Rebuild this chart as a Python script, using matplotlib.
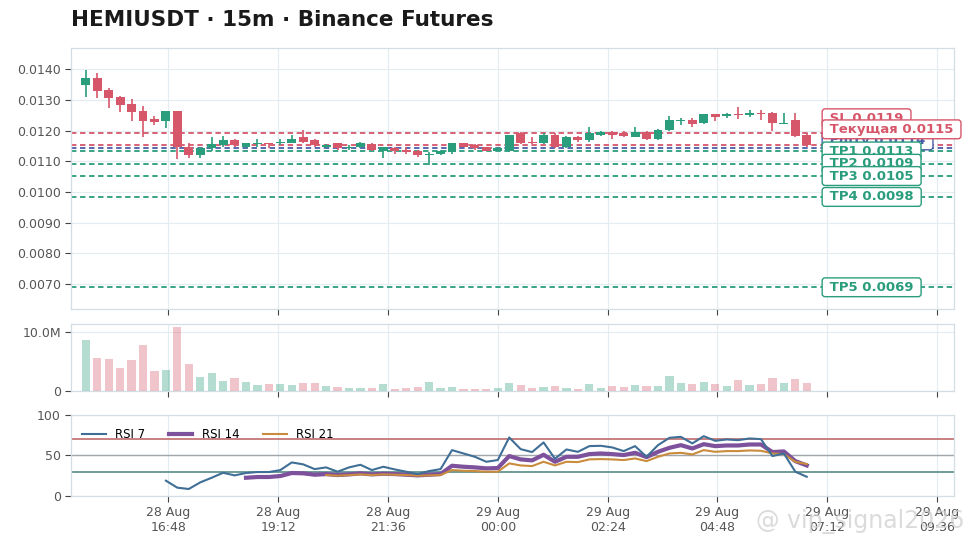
import numpy as np
import pandas as pd
import matplotlib
matplotlib.use('Agg')
import matplotlib.pyplot as plt
import matplotlib.dates as mdates
from matplotlib.ticker import MultipleLocator, FixedLocator, FuncFormatter

# свечи 15m, HEMIUSDT
times = pd.date_range('2025-08-28 15:00', periods=64, freq='15min')
opens = [0.01348, 0.01371, 0.01331, 0.01308, 0.01286, 0.01263, 0.01236, 0.01230, 0.01263, 0.01148,
         0.01119, 0.01142, 0.01152, 0.01168, 0.01148, 0.01155, 0.01161, 0.01158, 0.01161, 0.01178,
         0.01168, 0.01148, 0.01158, 0.01142, 0.01145, 0.01155, 0.01135, 0.01142, 0.01138, 0.01132,
         0.01122, 0.01125, 0.01129, 0.01158, 0.01152, 0.01145, 0.01135, 0.01135, 0.01191, 0.01164,
         0.01158, 0.01187, 0.01145, 0.01178, 0.01168, 0.01184, 0.01194, 0.01191, 0.01178, 0.01194,
         0.01171, 0.01201, 0.01230, 0.01233, 0.01223, 0.01253, 0.01246, 0.01253, 0.01250, 0.01256,
         0.01256, 0.01220, 0.01233, 0.01184]
highs = [0.01397, 0.01387, 0.01338, 0.01312, 0.01302, 0.01279, 0.01246, 0.01263, 0.01263, 0.01158,
         0.01148, 0.01178, 0.01181, 0.01174, 0.01161, 0.01174, 0.01161, 0.01171, 0.01184, 0.01201,
         0.01171, 0.01155, 0.01161, 0.01152, 0.01164, 0.01158, 0.01148, 0.01145, 0.01145, 0.01138,
         0.01129, 0.01138, 0.01158, 0.01161, 0.01155, 0.01148, 0.01145, 0.01187, 0.01194, 0.01178,
         0.01191, 0.01191, 0.01181, 0.01181, 0.01210, 0.01197, 0.01197, 0.01197, 0.01210, 0.01197,
         0.01204, 0.01246, 0.01240, 0.01240, 0.01253, 0.01253, 0.01256, 0.01276, 0.01266, 0.01266,
         0.01259, 0.01256, 0.01256, 0.01191]
lows = [0.01308, 0.01305, 0.01272, 0.01259, 0.01230, 0.01178, 0.01217, 0.01207, 0.01106, 0.01112,
        0.01112, 0.01135, 0.01148, 0.01145, 0.01142, 0.01148, 0.01142, 0.01152, 0.01158, 0.01161,
        0.01148, 0.01142, 0.01138, 0.01138, 0.01142, 0.01135, 0.01112, 0.01125, 0.01125, 0.01115,
        0.01089, 0.01122, 0.01125, 0.01145, 0.01138, 0.01132, 0.01132, 0.01129, 0.01155, 0.01155,
        0.01155, 0.01142, 0.01142, 0.01164, 0.01164, 0.01181, 0.01174, 0.01178, 0.01178, 0.01168,
        0.01168, 0.01197, 0.01217, 0.01210, 0.01220, 0.01230, 0.01240, 0.01236, 0.01243, 0.01233,
        0.01197, 0.01220, 0.01178, 0.01145]
closes = [0.01371, 0.01328, 0.01305, 0.01282, 0.01259, 0.01230, 0.01227, 0.01263, 0.01148, 0.01119,
          0.01142, 0.01155, 0.01168, 0.01152, 0.01158, 0.01161, 0.01155, 0.01164, 0.01174, 0.01164,
          0.01152, 0.01152, 0.01142, 0.01148, 0.01158, 0.01138, 0.01145, 0.01132, 0.01129, 0.01122,
          0.01125, 0.01132, 0.01158, 0.01148, 0.01142, 0.01135, 0.01142, 0.01184, 0.01158, 0.01158,
          0.01187, 0.01145, 0.01178, 0.01168, 0.01191, 0.01194, 0.01187, 0.01181, 0.01194, 0.01171,
          0.01201, 0.01233, 0.01233, 0.01220, 0.01253, 0.01243, 0.01253, 0.01250, 0.01256, 0.01253,
          0.01223, 0.01223, 0.01181, 0.01154]
# объём в млн
volumes_m = [8.69, 5.68, 5.45, 3.98, 5.28, 7.84, 3.47, 3.58, 10.8, 4.66,
             2.44, 3.13, 1.70, 2.22, 1.53, 1.02, 1.19, 1.19, 1.02, 1.36,
             1.36, 0.85, 0.68, 0.51, 0.51, 0.51, 1.19, 0.34, 0.51, 0.68,
             1.53, 0.51, 0.68, 0.34, 0.34, 0.34, 0.57, 1.31, 1.02, 0.51,
             0.63, 0.85, 0.45, 0.34, 1.19, 0.51, 0.85, 0.68, 1.02, 0.85,
             0.85, 2.56, 1.31, 1.19, 1.48, 1.19, 0.80, 1.87, 1.02, 1.19,
             2.22, 1.36, 2.04, 1.42]

# RSI (первые значения отсутствуют)
rsi7_vals = [18.8, 10.2, 8.6, 16.7, 22.4, 28.5, 25.3, 28.2, 29.4, 29.4,
             31.8, 41.2, 38.8, 33.0, 35.1, 29.8, 35.1, 38.3, 31.8, 35.9,
             32.6, 29.8, 26.9, 30.6, 33.0, 56.3, 52.2, 48.1, 42.0, 44.1,
             71.8, 57.5, 53.9, 65.7, 45.7, 57.1, 54.2, 61.2, 61.6, 59.6,
             55.1, 61.2, 48.1, 62.4, 71.4, 72.6, 64.5, 73.4, 67.7, 69.4,
             68.5, 70.6, 69.8, 49.0, 52.2, 29.8, 23.6]
rsi14_vals = [22.4, 23.3, 23.3, 24.5, 28.2, 27.8, 26.1, 26.9, 25.7, 26.5,
              27.8, 26.5, 27.3, 26.9, 26.1, 25.3, 26.1, 26.9, 37.1, 35.9,
              35.1, 33.9, 34.3, 49.0, 44.9, 43.7, 50.6, 42.0, 48.1, 48.1,
              51.4, 52.2, 51.4, 50.2, 53.0, 47.7, 54.2, 59.1, 62.4, 58.3,
              63.6, 61.2, 62.0, 62.0, 63.2, 63.2, 53.9, 54.7, 42.8, 37.5]
rsi21_vals = [25.7, 24.9, 25.7, 26.5, 25.7, 26.5, 26.1, 25.7, 24.9, 25.3,
              25.7, 31.8, 31.0, 30.6, 29.8, 29.8, 40.0, 37.5, 36.7, 42.0,
              37.5, 42.0, 41.6, 44.9, 45.3, 44.9, 44.1, 46.1, 42.8, 48.1,
              52.2, 53.0, 51.0, 56.3, 54.2, 55.1, 55.1, 55.9, 55.5, 52.2,
              51.4, 42.0, 39.2]

# уровни сделки
level_names = ['SL', 'Entry', 'TP1', 'TP2', 'TP3', 'TP4', 'TP5']
level_values = [0.01193, 0.01144, 0.01132, 0.01092, 0.01052, 0.00984, 0.00690]

GREEN = '#2a9d7c'
RED = '#d6566a'
BLUE = '#4a5ea8'
level_colors = [RED, BLUE, GREEN, GREEN, GREEN, GREEN, GREEN]

plt.rcParams.update({
    'font.family': 'DejaVu Sans',
    'font.size': 9,
    'axes.edgecolor': '#d3dde4',
    'axes.linewidth': 0.9,
    'grid.color': '#e3ecf1',
    'grid.linewidth': 0.8,
    'xtick.color': '#444444',
    'ytick.color': '#444444',
    'xtick.labelcolor': '#555555',
    'ytick.labelcolor': '#555555',
    'xtick.major.size': 4,
    'ytick.major.size': 4,
})

x = mdates.date2num(times)
o = np.array(opens); h = np.array(highs); l = np.array(lows); c = np.array(closes)
up = c >= o
cols = np.where(up, GREEN, RED)
step = 15 / 1440.0

fig = plt.figure(figsize=(9.72, 5.48), dpi=100)
W, H = 972.0, 548.0
left, right = 71.3 / W, 954 / W
ax = fig.add_axes([left, 1 - 309 / H, right - left, (309 - 48.3) / H])
axv = fig.add_axes([left, 1 - 391 / H, right - left, (391 - 324.3) / H], sharex=ax)
axr = fig.add_axes([left, 1 - 496 / H, right - left, (496 - 414.5) / H], sharex=ax)

for a in (ax, axv, axr):
    a.set_facecolor('white')
    a.grid(True, zorder=0)
    a.set_axisbelow(True)

# свечи
ax.vlines(x, l, h, colors=cols, linewidth=1.2, zorder=3)
body_lo = np.minimum(o, c)
body_h = np.maximum(np.abs(c - o), 0.00003)
ax.bar(x, body_h, bottom=body_lo, width=step * 0.78, color=cols, zorder=4, linewidth=0)

# уровни
current = closes[-1]
all_names = level_names + ['Текущая']
all_vals = level_values + [current]
all_cols = level_colors + [RED]
dash = (0, (3, 2))
for v, col in zip(all_vals, all_cols):
    ax.axhline(v, color=col, linestyle=dash, linewidth=1.3, zorder=2)

# подписи уровней с раздвижкой, чтобы не налезали
gap = 0.00036
order = np.argsort(all_vals)
label_y = {}
prev = None
for i in order:
    y = all_vals[i]
    if prev is not None and y < prev + gap:
        y = prev + gap
    label_y[i] = y
    prev = y
lx = x[-1] + 1.6 * step
for i in range(len(all_vals)):
    z = 8 if all_names[i] == 'Текущая' else 6
    ax.text(lx, label_y[i], ' %s %.4f ' % (all_names[i], all_vals[i]),
            color=all_cols[i], fontsize=9.5, fontweight='bold', ha='left', va='center',
            zorder=z, clip_on=False,
            bbox=dict(boxstyle='round,pad=0.22', facecolor='white', edgecolor=all_cols[i],
                      linewidth=1.0))

lo = min(min(lows), min(level_values))
hi = max(max(highs), max(level_values))
rng = hi - lo
ax.set_ylim(lo - 0.1 * rng, hi + 0.1 * rng)
ax.yaxis.set_major_locator(MultipleLocator(0.001))
ax.yaxis.set_major_formatter(FuncFormatter(lambda v, p: '%.4f' % v))

# объём
vol = np.array(volumes_m) * 1e6
axv.bar(x, vol, width=step * 0.72, color=cols, alpha=0.35, linewidth=0, zorder=3)
axv.set_ylim(0, vol.max() * 1.05)
axv.yaxis.set_major_locator(FixedLocator([0, 1e7]))
axv.yaxis.set_major_formatter(FuncFormatter(lambda v, p: '%.1fM' % (v / 1e6) if v else '0'))

# RSI
rsi7 = np.array([np.nan] * 7 + rsi7_vals)
rsi14 = np.array([np.nan] * 14 + rsi14_vals)
rsi21 = np.array([np.nan] * 21 + rsi21_vals)
axr.axhline(70, color='#c98080', linewidth=1.4, zorder=2)
axr.axhline(50, color='#a0a6aa', linewidth=1.0, zorder=2)
axr.axhline(30, color='#6f9c98', linewidth=1.4, zorder=2)
axr.plot(x, rsi7, color='#3f6f96', linewidth=1.5, label='RSI 7', zorder=4)
axr.plot(x, rsi14, color='#7d519c', linewidth=3.0, label='RSI 14', zorder=3)
axr.plot(x, rsi21, color='#c98b3c', linewidth=1.5, label='RSI 21', zorder=3)
axr.set_ylim(0, 100)
axr.yaxis.set_major_locator(FixedLocator([0, 50, 100]))
axr.legend(loc='upper left', ncol=3, frameon=False, fontsize=8.5,
           bbox_to_anchor=(0.0, 0.96), columnspacing=2.0)

# ось времени
ax.set_xlim(mdates.date2num(pd.Timestamp('2025-08-28 14:41')),
            mdates.date2num(pd.Timestamp('2025-08-29 09:58')))
axr.xaxis.set_major_locator(MultipleLocator(0.1))
axr.xaxis.set_major_formatter(mdates.DateFormatter('%d %b\n%H:%M'))
plt.setp(ax.get_xticklabels(), visible=False)
plt.setp(axv.get_xticklabels(), visible=False)

fig.text(left, 1 - 20.5 / H, 'HEMIUSDT · 15m · Binance Futures', fontsize=15.5,
         fontweight='bold', color='#1a1a1a', ha='left', va='center')

# водяной знак
fig.text(0.992, 1 - 521 / H, '@ vip_signal2026', fontsize=17, color='#cfcfcf',
         alpha=0.75, ha='right', va='center', zorder=10)

fig.savefig('out.png', dpi=100)
